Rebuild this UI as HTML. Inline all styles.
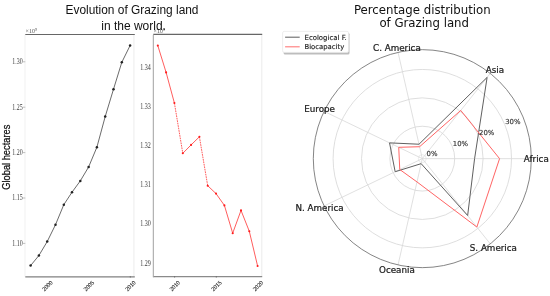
<!DOCTYPE html>
<html><head><meta charset="utf-8"><style>
html,body{margin:0;padding:0;background:#fff;}
svg{display:block;}
</style></head><body>
<svg width="550" height="296" viewBox="0 0 550 296">
<rect width="550" height="296" fill="#fff"/>
<g fill="none">
<line x1="25.0" y1="34.5" x2="25.0" y2="276.8" stroke="#ededed" stroke-width="0.8"/>
<line x1="133.9" y1="34.5" x2="133.9" y2="276.8" stroke="#e8e8e8" stroke-width="0.8"/>
<line x1="25.3" y1="34.5" x2="134.8" y2="34.5" stroke="#666" stroke-width="1.15"/>
<line x1="25.3" y1="276.8" x2="134.8" y2="276.8" stroke="#808080" stroke-width="1.3"/>
<line x1="261.8" y1="34.4" x2="261.8" y2="276.7" stroke="#e6e6e6" stroke-width="0.8"/>
<line x1="153.3" y1="34.4" x2="262.2" y2="34.4" stroke="#666" stroke-width="1.15"/>
<line x1="153.3" y1="276.7" x2="262.2" y2="276.7" stroke="#8a8a8a" stroke-width="1.2"/>
<line x1="153.3" y1="34.9" x2="153.3" y2="277.3" stroke="#a0a0a0" stroke-width="1"/>
</g>
<polyline points="30.6,265.6 38.9,255.5 47.2,241.6 55.5,224.7 63.8,204.7 72.0,192.2 80.3,180.9 88.6,167.0 96.9,147.2 105.2,116.6 113.5,89.2 121.8,62.3 130.1,45.5" fill="none" stroke="#3a3a3a" stroke-width="0.75"/>
<circle cx="30.6" cy="265.6" r="1.25" fill="#222"/>
<circle cx="38.9" cy="255.5" r="1.25" fill="#222"/>
<circle cx="47.2" cy="241.6" r="1.25" fill="#222"/>
<circle cx="55.5" cy="224.7" r="1.25" fill="#222"/>
<circle cx="63.8" cy="204.7" r="1.25" fill="#222"/>
<circle cx="72.0" cy="192.2" r="1.25" fill="#222"/>
<circle cx="80.3" cy="180.9" r="1.25" fill="#222"/>
<circle cx="88.6" cy="167.0" r="1.25" fill="#222"/>
<circle cx="96.9" cy="147.2" r="1.25" fill="#222"/>
<circle cx="105.2" cy="116.6" r="1.25" fill="#222"/>
<circle cx="113.5" cy="89.2" r="1.25" fill="#222"/>
<circle cx="121.8" cy="62.3" r="1.25" fill="#222"/>
<circle cx="130.1" cy="45.5" r="1.25" fill="#222"/>
<line x1="157.8" y1="45.6" x2="166.1" y2="72.4" stroke="#ff4040" stroke-width="0.85"/>
<line x1="166.1" y1="72.4" x2="174.4" y2="103.0" stroke="#ff4040" stroke-width="0.85"/>
<line x1="174.4" y1="103.0" x2="182.8" y2="153.3" stroke="#ff4040" stroke-width="0.85" stroke-dasharray="1.7,0.8"/>
<line x1="182.8" y1="153.3" x2="191.1" y2="144.9" stroke="#ff4040" stroke-width="0.85"/>
<line x1="191.1" y1="144.9" x2="199.4" y2="136.8" stroke="#ff4040" stroke-width="0.85"/>
<line x1="199.4" y1="136.8" x2="207.7" y2="185.7" stroke="#ff4040" stroke-width="0.85" stroke-dasharray="1.7,0.8"/>
<line x1="207.7" y1="185.7" x2="216.0" y2="193.6" stroke="#ff4040" stroke-width="0.85"/>
<line x1="216.0" y1="193.6" x2="224.4" y2="205.4" stroke="#ff4040" stroke-width="0.85"/>
<line x1="224.4" y1="205.4" x2="232.7" y2="233.2" stroke="#ff4040" stroke-width="0.85"/>
<line x1="232.7" y1="233.2" x2="241.0" y2="210.4" stroke="#ff4040" stroke-width="0.85"/>
<line x1="241.0" y1="210.4" x2="249.3" y2="231.3" stroke="#ff4040" stroke-width="0.85"/>
<line x1="249.3" y1="231.3" x2="257.6" y2="266.0" stroke="#ff4040" stroke-width="0.85"/>
<circle cx="157.8" cy="45.6" r="1.05" fill="#ff1a1a"/>
<circle cx="166.1" cy="72.4" r="1.05" fill="#ff1a1a"/>
<circle cx="174.4" cy="103.0" r="1.05" fill="#ff1a1a"/>
<circle cx="182.8" cy="153.3" r="1.05" fill="#ff1a1a"/>
<circle cx="191.1" cy="144.9" r="1.05" fill="#ff1a1a"/>
<circle cx="199.4" cy="136.8" r="1.05" fill="#ff1a1a"/>
<circle cx="207.7" cy="185.7" r="1.05" fill="#ff1a1a"/>
<circle cx="216.0" cy="193.6" r="1.05" fill="#ff1a1a"/>
<circle cx="224.4" cy="205.4" r="1.05" fill="#ff1a1a"/>
<circle cx="232.7" cy="233.2" r="1.05" fill="#ff1a1a"/>
<circle cx="241.0" cy="210.4" r="1.05" fill="#ff1a1a"/>
<circle cx="249.3" cy="231.3" r="1.05" fill="#ff1a1a"/>
<circle cx="257.6" cy="266.0" r="1.05" fill="#ff1a1a"/>
<text transform="translate(12.2,64.2) scale(1,1.15)" font-family="Liberation Serif, serif" font-size="6.4" textLength="10.4" lengthAdjust="spacingAndGlyphs" fill="#3a3a3a">1.30</text>
<line x1="23" y1="61.8" x2="25.3" y2="61.8" stroke="#999" stroke-width="0.6"/>
<text transform="translate(12.2,109.6) scale(1,1.15)" font-family="Liberation Serif, serif" font-size="6.4" textLength="10.4" lengthAdjust="spacingAndGlyphs" fill="#3a3a3a">1.25</text>
<line x1="23" y1="107.2" x2="25.3" y2="107.2" stroke="#999" stroke-width="0.6"/>
<text transform="translate(12.2,155.0) scale(1,1.15)" font-family="Liberation Serif, serif" font-size="6.4" textLength="10.4" lengthAdjust="spacingAndGlyphs" fill="#3a3a3a">1.20</text>
<line x1="23" y1="152.6" x2="25.3" y2="152.6" stroke="#999" stroke-width="0.6"/>
<text transform="translate(12.2,200.4) scale(1,1.15)" font-family="Liberation Serif, serif" font-size="6.4" textLength="10.4" lengthAdjust="spacingAndGlyphs" fill="#3a3a3a">1.15</text>
<line x1="23" y1="198.0" x2="25.3" y2="198.0" stroke="#999" stroke-width="0.6"/>
<text transform="translate(12.2,245.8) scale(1,1.15)" font-family="Liberation Serif, serif" font-size="6.4" textLength="10.4" lengthAdjust="spacingAndGlyphs" fill="#3a3a3a">1.10</text>
<line x1="23" y1="243.4" x2="25.3" y2="243.4" stroke="#999" stroke-width="0.6"/>
<text transform="translate(140.3,70.0) scale(1,1.15)" font-family="Liberation Serif, serif" font-size="6.4" textLength="10.6" lengthAdjust="spacingAndGlyphs" fill="#3a3a3a">1.34</text>
<text transform="translate(140.3,109.1) scale(1,1.15)" font-family="Liberation Serif, serif" font-size="6.4" textLength="10.6" lengthAdjust="spacingAndGlyphs" fill="#3a3a3a">1.33</text>
<text transform="translate(140.3,148.2) scale(1,1.15)" font-family="Liberation Serif, serif" font-size="6.4" textLength="10.6" lengthAdjust="spacingAndGlyphs" fill="#3a3a3a">1.32</text>
<text transform="translate(140.3,187.3) scale(1,1.15)" font-family="Liberation Serif, serif" font-size="6.4" textLength="10.6" lengthAdjust="spacingAndGlyphs" fill="#3a3a3a">1.31</text>
<text transform="translate(140.3,226.4) scale(1,1.15)" font-family="Liberation Serif, serif" font-size="6.4" textLength="10.6" lengthAdjust="spacingAndGlyphs" fill="#3a3a3a">1.30</text>
<text transform="translate(140.3,265.5) scale(1,1.15)" font-family="Liberation Serif, serif" font-size="6.4" textLength="10.6" lengthAdjust="spacingAndGlyphs" fill="#3a3a3a">1.29</text>
<text transform="translate(47.4,285.9) rotate(-45)" font-family="Liberation Serif, serif" font-size="6.0" text-anchor="middle" dominant-baseline="central" fill="#222" stroke="#222" stroke-width="0.12">2000</text>
<text transform="translate(88.9,285.9) rotate(-45)" font-family="Liberation Serif, serif" font-size="6.0" text-anchor="middle" dominant-baseline="central" fill="#222" stroke="#222" stroke-width="0.12">2005</text>
<text transform="translate(130.5,285.9) rotate(-45)" font-family="Liberation Serif, serif" font-size="6.0" text-anchor="middle" dominant-baseline="central" fill="#222" stroke="#222" stroke-width="0.12">2010</text>
<text transform="translate(174.8,285.9) rotate(-45)" font-family="Liberation Serif, serif" font-size="6.0" text-anchor="middle" dominant-baseline="central" fill="#222" stroke="#222" stroke-width="0.12">2010</text>
<text transform="translate(216.4,285.9) rotate(-45)" font-family="Liberation Serif, serif" font-size="6.0" text-anchor="middle" dominant-baseline="central" fill="#222" stroke="#222" stroke-width="0.12">2015</text>
<text transform="translate(258.0,285.9) rotate(-45)" font-family="Liberation Serif, serif" font-size="6.0" text-anchor="middle" dominant-baseline="central" fill="#222" stroke="#222" stroke-width="0.12">2020</text>
<line x1="174.6" y1="276.1" x2="174.6" y2="277.6" stroke="#666" stroke-width="0.8"/>
<line x1="216.3" y1="276.1" x2="216.3" y2="277.6" stroke="#666" stroke-width="0.8"/>
<line x1="130.3" y1="276.1" x2="130.3" y2="277.6" stroke="#666" stroke-width="0.8"/>
<text x="25.5" y="33.2" font-family="Liberation Serif, serif" font-size="6" fill="#555">×10<tspan dy="-2.6" font-size="4.2">9</tspan></text>
<text x="153.5" y="33.2" font-family="Liberation Serif, serif" font-size="6" fill="#555">×10<tspan dy="-2.6" font-size="4.2">9</tspan></text>
<text x="65.5" y="14.3" font-family="Liberation Sans, sans-serif" font-size="12.3" textLength="133.0" lengthAdjust="spacingAndGlyphs" fill="#111">Evolution of Grazing land</text>
<text x="101.3" y="29.6" font-family="Liberation Sans, sans-serif" font-size="12.3" textLength="64.6" lengthAdjust="spacingAndGlyphs" fill="#111">in the world.</text>
<text transform="translate(9.6,157.2) rotate(-90)" font-family="Liberation Sans, sans-serif" font-size="11" text-anchor="middle" textLength="65" lengthAdjust="spacingAndGlyphs" fill="#111" stroke="#111" stroke-width="0.25">Global hectares</text>
<circle cx="422.3" cy="158.65" r="4.00" fill="none" stroke="#e6e6e6" stroke-width="0.8"/>
<circle cx="422.3" cy="158.65" r="32.40" fill="none" stroke="#d6d6d6" stroke-width="0.8"/>
<circle cx="422.3" cy="158.65" r="60.80" fill="none" stroke="#d6d6d6" stroke-width="0.8"/>
<circle cx="422.3" cy="158.65" r="89.20" fill="none" stroke="#d6d6d6" stroke-width="0.8"/>
<line x1="422.3" y1="158.65" x2="531.30" y2="158.65" stroke="#d8d8d8" stroke-width="0.8"/>
<line x1="422.3" y1="158.65" x2="490.26" y2="73.43" stroke="#d8d8d8" stroke-width="0.8"/>
<line x1="422.3" y1="158.65" x2="398.05" y2="52.38" stroke="#d8d8d8" stroke-width="0.8"/>
<line x1="422.3" y1="158.65" x2="324.09" y2="111.36" stroke="#d8d8d8" stroke-width="0.8"/>
<line x1="422.3" y1="158.65" x2="324.09" y2="205.94" stroke="#d8d8d8" stroke-width="0.8"/>
<line x1="422.3" y1="158.65" x2="398.05" y2="264.92" stroke="#d8d8d8" stroke-width="0.8"/>
<line x1="422.3" y1="158.65" x2="490.26" y2="243.87" stroke="#d8d8d8" stroke-width="0.8"/>
<circle cx="422.3" cy="158.65" r="109.0" fill="none" stroke="#666" stroke-width="0.8"/>
<polygon points="474.58,158.65 487.12,77.36 419.01,144.23 389.53,142.87 395.16,171.72 421.16,163.66 467.65,215.51" fill="none" stroke="#606060" stroke-width="1"/>
<polygon points="499.57,158.65 460.74,110.45 419.58,146.72 398.74,147.30 399.76,169.50 416.99,181.93 476.85,227.06" fill="none" stroke="#ff6464" stroke-width="1"/>
<text x="536.30" y="161.85" font-family="DejaVu Sans, sans-serif" font-size="8.75" text-anchor="middle" fill="#1a1a1a" stroke="#1a1a1a" stroke-width="0.22">Africa</text>
<text x="494.88" y="72.72" font-family="DejaVu Sans, sans-serif" font-size="8.75" text-anchor="middle" fill="#1a1a1a" stroke="#1a1a1a" stroke-width="0.22">Asia</text>
<text x="396.93" y="50.71" font-family="DejaVu Sans, sans-serif" font-size="8.75" text-anchor="middle" fill="#1a1a1a" stroke="#1a1a1a" stroke-width="0.22">C. America</text>
<text x="319.59" y="112.39" font-family="DejaVu Sans, sans-serif" font-size="8.75" text-anchor="middle" fill="#1a1a1a" stroke="#1a1a1a" stroke-width="0.22">Europe</text>
<text x="319.59" y="211.31" font-family="DejaVu Sans, sans-serif" font-size="8.75" text-anchor="middle" fill="#1a1a1a" stroke="#1a1a1a" stroke-width="0.22">N. America</text>
<text x="396.93" y="272.99" font-family="DejaVu Sans, sans-serif" font-size="8.75" text-anchor="middle" fill="#1a1a1a" stroke="#1a1a1a" stroke-width="0.22">Oceania</text>
<text x="493.38" y="250.98" font-family="DejaVu Sans, sans-serif" font-size="8.75" text-anchor="middle" fill="#1a1a1a" stroke="#1a1a1a" stroke-width="0.22">S. America</text>
<text x="432" y="156.20" font-family="DejaVu Sans, sans-serif" font-size="6.9" text-anchor="middle" fill="#333" stroke="#333" stroke-width="0.15">0%</text>
<text x="460.5" y="145.60" font-family="DejaVu Sans, sans-serif" font-size="6.9" text-anchor="middle" fill="#333" stroke="#333" stroke-width="0.15">10%</text>
<text x="486.7" y="134.70" font-family="DejaVu Sans, sans-serif" font-size="6.9" text-anchor="middle" fill="#333" stroke="#333" stroke-width="0.15">20%</text>
<text x="512.9" y="124.10" font-family="DejaVu Sans, sans-serif" font-size="6.9" text-anchor="middle" fill="#333" stroke="#333" stroke-width="0.15">30%</text>
<text x="422.3" y="13.5" font-family="DejaVu Sans, sans-serif" font-size="11.75" text-anchor="middle" fill="#111">Percentage distribution</text>
<text x="424.2" y="26.6" font-family="DejaVu Sans, sans-serif" font-size="11.75" text-anchor="middle" fill="#111">of Grazing land</text>
<rect x="283.6" y="32.8" width="65.9" height="21.6" rx="1.5" fill="#bdbdbd"/>
<rect x="282.6" y="31.4" width="65.9" height="21" rx="1.5" fill="#fff" stroke="#e6e6e6" stroke-width="0.7"/>
<line x1="285.1" y1="37.2" x2="299.7" y2="37.2" stroke="#6a6a6a" stroke-width="1.1"/>
<line x1="285.1" y1="46.8" x2="299.7" y2="46.8" stroke="#ff7a7a" stroke-width="1.1"/>
<text x="304.5" y="39.7" font-family="DejaVu Sans, sans-serif" font-size="6.95" fill="#222" stroke="#222" stroke-width="0.15">Ecological F.</text>
<text x="304.5" y="49.3" font-family="DejaVu Sans, sans-serif" font-size="6.85" fill="#222" stroke="#222" stroke-width="0.15">Biocapacity</text>
</svg>
</body></html>
